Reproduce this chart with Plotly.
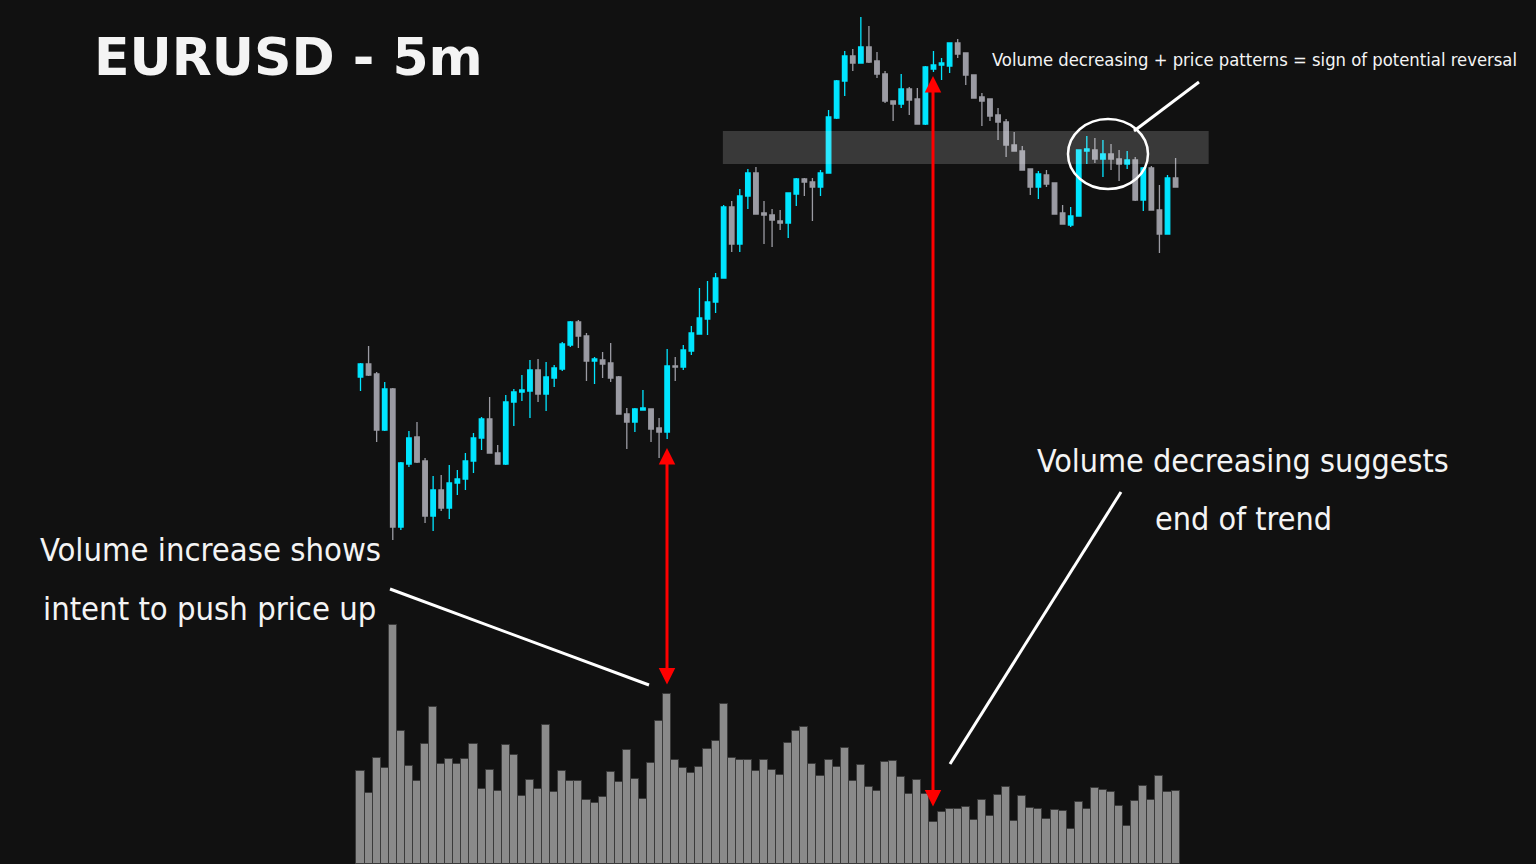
import plotly.graph_objects as go

# ---------------- data ----------------
candle_index = list(range(1, 103))

open_ = [1.08623, 1.08636, 1.08626, 1.08570, 1.08611, 1.08473, 1.08536, 1.08563, 1.08539, 1.08484,
         1.08510, 1.08492, 1.08517, 1.08521, 1.08539, 1.08562, 1.08581, 1.08547, 1.08536, 1.08598,
         1.08608, 1.08609, 1.08630, 1.08606, 1.08622, 1.08631, 1.08655, 1.08678, 1.08664, 1.08639,
         1.08640, 1.08637, 1.08623, 1.08586, 1.08578, 1.08590, 1.08591, 1.08572, 1.08568, 1.08634,
         1.08633, 1.08649, 1.08666, 1.08681, 1.08698, 1.08722, 1.08793, 1.08756, 1.08804, 1.08827,
         1.08787, 1.08785, 1.08779, 1.08777, 1.08806, 1.08821, 1.08818, 1.08813, 1.08827, 1.08882,
         1.08919, 1.08944, 1.08937, 1.08953, 1.08939, 1.08926, 1.08899, 1.08896, 1.08911, 1.08901,
         1.08876, 1.08931, 1.08935, 1.08934, 1.08957, 1.08947, 1.08925, 1.08903, 1.08901, 1.08885,
         1.08878, 1.08855, 1.08849, 1.08831, 1.08813, 1.08825, 1.08817, 1.08787, 1.08775, 1.08784,
         1.08849, 1.08850, 1.08841, 1.08846, 1.08841, 1.08836, 1.08840, 1.08800, 1.08832, 1.08790,
         1.08766, 1.08822]
high = [1.08637, 1.08654, 1.08628, 1.08618, 1.08612, 1.08538, 1.08569, 1.08578, 1.08542, 1.08524,
        1.08525, 1.08535, 1.08530, 1.08547, 1.08567, 1.08583, 1.08603, 1.08555, 1.08605, 1.08611,
        1.08625, 1.08640, 1.08641, 1.08638, 1.08635, 1.08658, 1.08679, 1.08680, 1.08667, 1.08643,
        1.08648, 1.08657, 1.08624, 1.08592, 1.08592, 1.08610, 1.08591, 1.08582, 1.08651, 1.08643,
        1.08655, 1.08674, 1.08712, 1.08719, 1.08727, 1.08795, 1.08799, 1.08811, 1.08831, 1.08833,
        1.08799, 1.08791, 1.08790, 1.08807, 1.08822, 1.08822, 1.08822, 1.08830, 1.08890, 1.08920,
        1.08949, 1.08951, 1.08983, 1.08974, 1.08948, 1.08929, 1.08899, 1.08926, 1.08913, 1.08912,
        1.08934, 1.08949, 1.08942, 1.08957, 1.08961, 1.08947, 1.08925, 1.08907, 1.08901, 1.08892,
        1.08881, 1.08868, 1.08854, 1.08831, 1.08829, 1.08830, 1.08817, 1.08795, 1.08793, 1.08850,
        1.08864, 1.08862, 1.08860, 1.08856, 1.08850, 1.08849, 1.08843, 1.08833, 1.08834, 1.08815,
        1.08825, 1.08842]
low = [1.08609, 1.08624, 1.08558, 1.08569, 1.08460, 1.08470, 1.08533, 1.08537, 1.08477, 1.08469,
       1.08489, 1.08481, 1.08505, 1.08510, 1.08527, 1.08550, 1.08547, 1.08536, 1.08535, 1.08574,
       1.08599, 1.08582, 1.08598, 1.08589, 1.08613, 1.08629, 1.08653, 1.08652, 1.08619, 1.08616,
       1.08622, 1.08618, 1.08586, 1.08551, 1.08568, 1.08590, 1.08558, 1.08542, 1.08561, 1.08619,
       1.08630, 1.08645, 1.08666, 1.08665, 1.08687, 1.08722, 1.08748, 1.08748, 1.08791, 1.08786,
       1.08756, 1.08753, 1.08770, 1.08762, 1.08794, 1.08804, 1.08779, 1.08804, 1.08827, 1.08881,
       1.08904, 1.08929, 1.08937, 1.08937, 1.08922, 1.08897, 1.08879, 1.08892, 1.08885, 1.08876,
       1.08875, 1.08928, 1.08920, 1.08927, 1.08942, 1.08915, 1.08902, 1.08874, 1.08879, 1.08860,
       1.08843, 1.08849, 1.08830, 1.08805, 1.08801, 1.08813, 1.08786, 1.08776, 1.08773, 1.08784,
       1.08836, 1.08837, 1.08823, 1.08830, 1.08819, 1.08831, 1.08799, 1.08789, 1.08790, 1.08747,
       1.08766, 1.08813]
close = [1.08636, 1.08625, 1.08570, 1.08611, 1.08473, 1.08537, 1.08562, 1.08538, 1.08484, 1.08510,
         1.08492, 1.08517, 1.08521, 1.08539, 1.08562, 1.08581, 1.08547, 1.08536, 1.08598, 1.08608,
         1.08610, 1.08630, 1.08606, 1.08623, 1.08632, 1.08656, 1.08678, 1.08664, 1.08639, 1.08641,
         1.08636, 1.08622, 1.08586, 1.08578, 1.08591, 1.08592, 1.08571, 1.08568, 1.08634, 1.08633,
         1.08650, 1.08667, 1.08682, 1.08698, 1.08722, 1.08793, 1.08756, 1.08804, 1.08827, 1.08786,
         1.08785, 1.08780, 1.08777, 1.08807, 1.08821, 1.08818, 1.08813, 1.08827, 1.08883, 1.08919,
         1.08944, 1.08937, 1.08953, 1.08938, 1.08926, 1.08899, 1.08896, 1.08911, 1.08900, 1.08876,
         1.08933, 1.08935, 1.08937, 1.08957, 1.08946, 1.08925, 1.08902, 1.08899, 1.08884, 1.08878,
         1.08855, 1.08849, 1.08830, 1.08813, 1.08826, 1.08816, 1.08786, 1.08776, 1.08784, 1.08850,
         1.08851, 1.08841, 1.08846, 1.08841, 1.08836, 1.08840, 1.08800, 1.08832, 1.08790, 1.08766,
         1.08822, 1.08813]
volume = [93, 71, 106, 96, 239, 133, 98, 83, 120, 157,
          100, 105, 100, 105, 120, 75, 94, 73, 119, 109,
          68, 84, 75, 139, 72, 93, 83, 83, 64, 61,
          67, 92, 82, 114, 85, 65, 101, 143, 170, 104,
          96, 91, 97, 115, 123, 160, 106, 104, 104, 93,
          104, 94, 89, 121, 133, 137, 100, 88, 104, 97,
          116, 83, 99, 77, 73, 102, 103, 87, 70, 84,
          70, 42, 52, 55, 55, 57, 44, 64, 48, 69,
          77, 43, 68, 56, 55, 45, 54, 53, 35, 62,
          55, 76, 74, 72, 58, 38, 63, 78, 64, 88,
          72, 73]

zone_low, zone_high = 1.08836, 1.08869
zone_start, zone_end = 45.9, 106.1

title_text = "EURUSD - 5m"
note_top = "Volume decreasing + price patterns = sign of potential reversal"
note_right = ["Volume decreasing suggests", "end of trend"]
note_left = ["Volume increase shows", "intent to push price up"]

# ---------------- style ----------------
W, H = 1536, 864
BG = "#111111"
CYAN = "#00e5ff"
GREY = "#9b9ba3"
TXT = "#f4f4f4"
COND = "DejaVu Sans Condensed, Liberation Sans Narrow, sans-serif"


def px(x):
    return x / W


def py(y):
    return 1 - y / H


fig = go.Figure()
fig.add_trace(go.Bar(
    x=candle_index, y=volume, yaxis="y2",
    marker=dict(color="#8a8a8a", line=dict(color="#3a3a3a", width=1)),
    width=1.0, hoverinfo="skip", showlegend=False))
fig.add_trace(go.Candlestick(
    x=candle_index, open=open_, high=high, low=low, close=close,
    increasing=dict(line=dict(color=CYAN, width=1.3), fillcolor=CYAN),
    decreasing=dict(line=dict(color=GREY, width=1.3), fillcolor=GREY),
    whiskerwidth=0, showlegend=False))

shapes = [
    dict(type="rect", xref="x", yref="y", x0=zone_start, x1=zone_end, y0=zone_low, y1=zone_high,
         fillcolor="rgba(255,255,255,0.17)", line=dict(width=0), layer="above"),
    dict(type="line", xref="paper", yref="paper", x0=px(390), y0=py(589), x1=px(649), y1=py(685),
         line=dict(color="white", width=3)),
    dict(type="line", xref="paper", yref="paper", x0=px(950), y0=py(764), x1=px(1121), y1=py(492),
         line=dict(color="white", width=3)),
    dict(type="line", xref="paper", yref="paper", x0=px(1134), y0=py(131), x1=px(1199), y1=py(82),
         line=dict(color="white", width=3)),
    dict(type="circle", xref="paper", yref="paper", x0=px(1068), x1=px(1148), y0=py(119), y1=py(189),
         line=dict(color="white", width=2.5)),
]

annotations = [
    dict(text="<b>" + title_text + "</b>", x=px(288), y=py(57), xref="paper", yref="paper",
         showarrow=False, font=dict(family="DejaVu Sans", size=52, color=TXT),
         xanchor="center", yanchor="middle"),
    dict(text=note_top, x=px(1254), y=py(60), xref="paper", yref="paper", showarrow=False,
         font=dict(family=COND, size=18.3, color=TXT), xanchor="center", yanchor="middle"),
    dict(text=note_right[0], x=px(1243), y=py(461), xref="paper", yref="paper", showarrow=False,
         font=dict(family=COND, size=32, color=TXT), xanchor="center", yanchor="middle"),
    dict(text=note_right[1], x=px(1243), y=py(519), xref="paper", yref="paper", showarrow=False,
         font=dict(family=COND, size=32, color=TXT), xanchor="center", yanchor="middle"),
    dict(text=note_left[0], x=px(210), y=py(550), xref="paper", yref="paper", showarrow=False,
         font=dict(family=COND, size=32.5, color=TXT), xanchor="center", yanchor="middle"),
    dict(text=note_left[1], x=px(209), y=py(609), xref="paper", yref="paper", showarrow=False,
         font=dict(family=COND, size=32.5, color=TXT), xanchor="center", yanchor="middle"),
    # red double-headed arrows
    dict(text="", x=px(667), y=py(448), xref="paper", yref="paper", ax=0, ay=238,
         showarrow=True, arrowside="end+start", arrowhead=2, arrowsize=1.1, arrowwidth=3,
         arrowcolor="#ff0000", standoff=0, startstandoff=0),
    dict(text="", x=px(933), y=py(76), xref="paper", yref="paper", ax=0, ay=732,
         showarrow=True, arrowside="end+start", arrowhead=2, arrowsize=1.1, arrowwidth=3,
         arrowcolor="#ff0000", standoff=0, startstandoff=0),
]

fig.update_layout(
    width=W, height=H, margin=dict(l=0, r=0, t=0, b=0),
    paper_bgcolor=BG, plot_bgcolor=BG,
    xaxis=dict(range=[-43.67, 146.66], visible=False, rangeslider=dict(visible=False)),
    yaxis=dict(range=[1.08136, 1.09], visible=False),
    yaxis2=dict(range=[0, 864], overlaying="y", visible=False),
    boxgap=0.2, bargap=0, showlegend=False,
    shapes=shapes, annotations=annotations,
)

fig.write_html("out.html", config={"displayModeBar": False},
               post_script="document.body.style.margin='0';document.body.style.background='#111111';")
